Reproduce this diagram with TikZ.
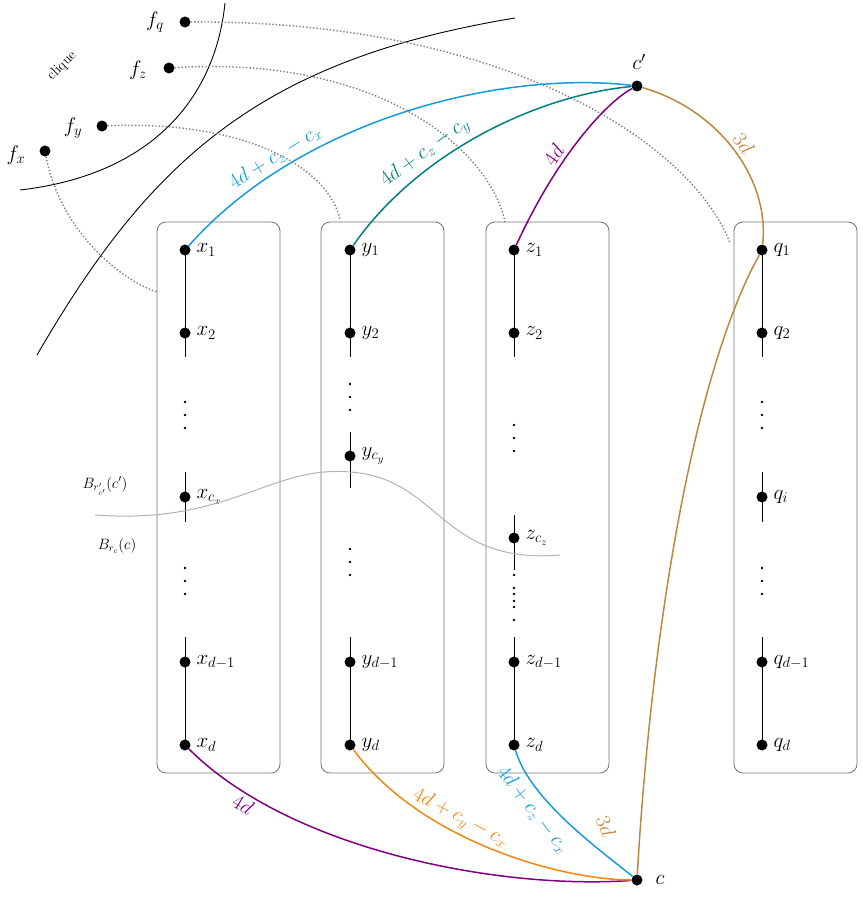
\RequirePackage{fix-cm}
\documentclass[tikz,border=0pt]{standalone}
\usepackage{amsmath}
\begin{document}
\begin{tikzpicture}[x=1pt,y=-1pt,
 vtx/.style={circle,fill=black,inner sep=0pt,minimum size=11pt},
 colbox/.style={draw=black!55,rounded corners=9pt,line width=0.8pt},
 lab/.style={font=\fontsize{21}{24}\selectfont},
 el/.style={font=\fontsize{21}{24}\selectfont},
 dt/.style={dotted,line width=1.4pt,black!50},
 e/.style={line width=1.5pt}]
\definecolor{cblue}{RGB}{22,155,220}
\definecolor{cteal}{RGB}{0,128,128}
\definecolor{cpurp}{RGB}{128,0,128}
\definecolor{cbrown}{RGB}{190,135,65}
\definecolor{corange}{RGB}{242,135,20}
\useasboundingbox (0,0) rectangle (862,918);
% boxes
\foreach \n/\xx in {bx/157,by/321,bz/486,bq/734}
  \draw[colbox] (\xx,222) rectangle ++(123,551);
% columns
\newcommand{\vt}[4]{\node[vtx] (#1) at (#2,#3) {}; \node[lab,anchor=west] at (#2+8,#3) {$#4$};}
\newcommand{\vd}[2]{\foreach \k in {-13,0,13} \fill (#1,#2+\k) circle (1.4pt);}
\foreach \cx/\nm in {185/x,350/y,514/z,762/q}{
  \draw[line width=0.9pt] (\cx,250) -- (\cx,357);
  \draw[line width=0.9pt] (\cx,637) -- (\cx,745);
}
\vt{x1}{185}{250}{x_1}\vt{x2}{185}{333}{x_2}\vt{xc}{185}{497}{x_{c_x}}\vt{xd1}{185}{662}{x_{d-1}}\vt{xd}{185}{745}{x_d}
\vt{y1}{350}{250}{y_1}\vt{y2}{350}{333}{y_2}\vt{yc}{350}{456}{y_{c_y}}\vt{yd1}{350}{662}{y_{d-1}}\vt{yd}{350}{745}{y_d}
\vt{z1}{514}{250}{z_1}\vt{z2}{514}{333}{z_2}\vt{zc}{514}{538}{z_{c_z}}\vt{zd1}{514}{662}{z_{d-1}}\vt{zd}{514}{745}{z_d}
\vt{q1}{762}{250}{q_1}\vt{q2}{762}{333}{q_2}\vt{qi}{762}{497}{q_i}\vt{qd1}{762}{662}{q_{d-1}}\vt{qd}{762}{745}{q_d}
\draw[line width=0.9pt] (185,472)--(185,522); \draw[line width=0.9pt] (350,432)--(350,488); \draw[line width=0.9pt] (514,515)--(514,570); \draw[line width=0.9pt] (762,472)--(762,522);
\vd{185}{415}\vd{185}{581}\vd{350}{397}\vd{350}{562}\vd{514}{438}\vd{514}{588}\vd{514}{607}\vd{762}{415}\vd{762}{581}
% c, c'
\node[vtx] (cp) at (637,86) {}; \node[lab] at (639,62) {$c'$};
\node[vtx] (c) at (637,880) {}; \node[lab] at (660,880) {$c$};
% f nodes
\node[vtx] (fq) at (185,22) {}; \node[lab] at (155,22) {$f_q$};
\node[vtx] (fz) at (169,68) {}; \node[lab] at (138,70) {$f_z$};
\node[vtx] (fy) at (102,126) {}; \node[lab] at (73,128) {$f_y$};
\node[vtx] (fx) at (45,151) {}; \node[lab] at (16,155) {$f_x$};
\node[rotate=45,font=\fontsize{14}{16}\selectfont] at (62,66) {clique};
% curves
\draw[line width=0.9pt] (20,190) .. controls (150,175) and (215,100) .. (225,3);
\draw[line width=0.9pt] (37,355) .. controls (150,160) and (260,60) .. (515,18);
% dotted
\draw[dt] (fq) .. controls (500,20) and (690,140) .. (730,243);
\draw[dt] (fz) .. controls (380,55) and (490,150) .. (505,222);
\draw[dt] (fy) .. controls (250,120) and (330,170) .. (340,220);
\draw[dt] (fx) .. controls (60,230) and (120,280) .. (157,292);
% wave
\draw[black!30,line width=1pt] (95,515) .. controls (230,525) and (270,465) .. (350,472) .. controls (440,478) and (440,565) .. (560,555);
\node[font=\fontsize{15}{18}\selectfont] at (105,486) {$B_{r'_{c'}}(c')$};
\node[font=\fontsize{15}{18}\selectfont] at (117,546) {$B_{r_c}(c)$};
% edges to c'
\draw[e,cblue] (x1) .. controls (300,120) and (500,70) .. (cp) node[pos=0.24,sloped,above,el] {$4d+c_z-c_x$};
\draw[e,cteal] (y1) .. controls (420,150) and (540,95) .. (cp) node[pos=0.33,sloped,above,el] {$4d+c_z-c_y$};
\draw[e,cpurp] (z1) .. controls (560,150) and (610,100) .. (cp) node[pos=0.35,sloped,above,el] {$4d$};
\draw[e,cbrown] (cp) .. controls (720,110) and (770,180) .. (q1) node[pos=0.5,sloped,above,el] {$3d$};
% edges to c
\draw[e,cpurp] (xd) .. controls (290,850) and (500,890) .. (c) node[pos=0.17,sloped,below,el] {$4d$};
\draw[e,corange] (yd) .. controls (420,840) and (560,880) .. (c) node[pos=0.38,sloped,above,el] {$4d+c_y-c_x$};
\draw[e,cblue] (zd) .. controls (530,800) and (600,850) .. (c);
\node[el,cblue,rotate=-52] at (533,810) {$4d+c_z-c_x$};
\draw[e,cbrown] (c) .. controls (650,650) and (690,380) .. (q1);
\node[el,cbrown,rotate=-68] at (606,826) {$3d$};
\end{tikzpicture}
\end{document}
